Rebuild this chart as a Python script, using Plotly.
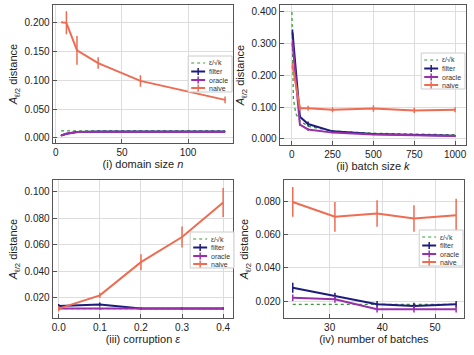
import plotly.graph_objects as go

# ---------------- data ----------------
# (i) domain size n
n_vals = [4, 8, 16, 32, 64, 128]
n_naive = [0.201, 0.200, 0.152, 0.130, 0.099, 0.066]
n_naive_err = [0.0, 0.020, 0.025, 0.010, 0.010, 0.006]
n_filter = [0.004, 0.007, 0.010, 0.011, 0.011, 0.011]
n_oracle = [0.004, 0.007, 0.010, 0.010, 0.010, 0.010]
n_small_err = [0.0005, 0.0005, 0.0005, 0.0005, 0.0005, 0.0005]
n_bound = [0.012, 0.012, 0.012, 0.012, 0.012, 0.012]

# (ii) batch size k
k_vals = [5, 50, 100, 250, 500, 750, 1000]
k_naive = [0.230, 0.097, 0.097, 0.092, 0.096, 0.090, 0.092]
k_naive_err = [0.010, 0.008, 0.008, 0.008, 0.010, 0.008, 0.008]
k_filter = [0.335, 0.070, 0.047, 0.024, 0.016, 0.012, 0.010]
k_filter_err = [0.010, 0.005, 0.008, 0.003, 0.002, 0.002, 0.002]
k_oracle = [0.300, 0.045, 0.030, 0.020, 0.014, 0.011, 0.009]
k_oracle_err = [0.010, 0.004, 0.004, 0.002, 0.002, 0.002, 0.002]
k_bound_x = [1, 5, 10, 25, 50, 100, 250, 500, 750, 1000]
k_bound = [0.400, 0.179, 0.126, 0.080, 0.057, 0.040, 0.025, 0.018, 0.015, 0.013]

# (iii) corruption eps
e_vals = [0.0, 0.1, 0.2, 0.3, 0.4]
e_naive = [0.012, 0.022, 0.047, 0.066, 0.092]
e_naive_err = [0.002, 0.002, 0.006, 0.008, 0.011]
e_filter = [0.014, 0.015, 0.012, 0.012, 0.012]
e_filter_err = [0.0015, 0.0015, 0.001, 0.001, 0.001]
e_oracle = [0.012, 0.012, 0.012, 0.012, 0.012]
e_oracle_err = [0.001, 0.001, 0.001, 0.001, 0.001]
e_bound = [0.012, 0.012, 0.012, 0.012, 0.012]

# (iv) number of batches
b_vals = [23, 31, 39, 46, 54]
b_naive = [0.080, 0.071, 0.073, 0.070, 0.072]
b_naive_err = [0.009, 0.009, 0.008, 0.008, 0.010]
b_filter = [0.028, 0.023, 0.018, 0.017, 0.018]
b_filter_err = [0.003, 0.002, 0.002, 0.002, 0.002]
b_oracle = [0.022, 0.021, 0.015, 0.015, 0.015]
b_oracle_err = [0.002, 0.002, 0.002, 0.002, 0.002]
b_bound = [0.018, 0.018, 0.018, 0.018, 0.018]

series_names = ["ε/√k", "filter", "oracle", "naive"]

# ---------------- style ----------------
C_NAIVE = "#EE6C52"
C_FILTER = "#1C1C7C"
C_ORACLE = "#9A2FAA"
C_BOUND = "#3A9A3A"
COLORS = [C_BOUND, C_FILTER, C_ORACLE, C_NAIVE]
FONT = "Liberation Sans, Arial, sans-serif"

W, H = 474, 355
# plot-area pixel boxes (left, top, right, bottom) and legend box (left, top)
PANELS = {
    1: dict(box=(52, 5, 233, 143), leg=(188, 56)),
    2: dict(box=(280, 5, 467, 145), leg=(422, 53)),
    3: dict(box=(52, 180, 233, 318), leg=(190, 232)),
    4: dict(box=(284, 180, 465, 318), leg=(420, 230)),
}

fig = go.Figure()


def add_panel(idx, x, naive, naive_err, filt, filt_err, orac, orac_err, bx, bound):
    sfx = "" if idx == 1 else str(idx)
    xa, ya = "x" + sfx, "y" + sfx
    fig.add_trace(go.Scatter(x=bx, y=bound, mode="lines", name=series_names[0], showlegend=False,
                             line=dict(color=C_BOUND, width=1.3, dash="dot"), xaxis=xa, yaxis=ya))
    for nm, yv, ev, col in [(series_names[1], filt, filt_err, C_FILTER),
                            (series_names[2], orac, orac_err, C_ORACLE),
                            (series_names[3], naive, naive_err, C_NAIVE)]:
        fig.add_trace(go.Scatter(x=x, y=yv, mode="lines", name=nm, showlegend=False,
                                 line=dict(color=col, width=2),
                                 error_y=dict(type="data", array=ev, color=col, thickness=1.5, width=0),
                                 xaxis=xa, yaxis=ya))


def add_legend(idx):
    sfx = "" if idx == 1 else str(idx)
    xr, yr = "x" + sfx + " domain", "y" + sfx + " domain"
    l, t, r, b = PANELS[idx]["box"]
    lx, ly = PANELS[idx]["leg"]
    pw, ph = r - l, b - t
    fx = lambda px: (px - l) / pw
    fy = lambda py: 1 - (py - t) / ph
    bw, bh = 44, 36
    fig.add_shape(type="rect", xref=xr, yref=yr, x0=fx(lx), x1=fx(lx + bw), y0=fy(ly), y1=fy(ly + bh),
                  line=dict(color="#CCCCCC", width=1), fillcolor="rgba(255,255,255,0.92)", layer="above")
    rows = [7, 15.5, 24, 32]
    for i, (nm, col) in enumerate(zip(series_names, COLORS)):
        yy = ly + rows[i]
        if i == 0:
            fig.add_shape(type="line", xref=xr, yref=yr, x0=fx(lx + 3), x1=fx(lx + 17), y0=fy(yy), y1=fy(yy),
                          line=dict(color=col, width=1.2, dash="dot"), layer="above")
        else:
            fig.add_shape(type="line", xref=xr, yref=yr, x0=fx(lx + 3), x1=fx(lx + 17), y0=fy(yy), y1=fy(yy),
                          line=dict(color=col, width=2), layer="above")
            fig.add_shape(type="line", xref=xr, yref=yr, x0=fx(lx + 10), x1=fx(lx + 10), y0=fy(yy - 3.5),
                          y1=fy(yy + 3.5), line=dict(color=col, width=1.5), layer="above")
        fig.add_annotation(xref=xr, yref=yr, x=fx(lx + 19), y=fy(yy), text=nm, showarrow=False,
                           xanchor="left", yanchor="middle",
                           font=dict(size=7, family=FONT, color="#333333"))


add_panel(1, n_vals, n_naive, n_naive_err, n_filter, n_small_err, n_oracle, n_small_err, n_vals, n_bound)
add_panel(2, k_vals, k_naive, k_naive_err, k_filter, k_filter_err, k_oracle, k_oracle_err, k_bound_x, k_bound)
add_panel(3, e_vals, e_naive, e_naive_err, e_filter, e_filter_err, e_oracle, e_oracle_err, e_vals, e_bound)
add_panel(4, b_vals, b_naive, b_naive_err, b_filter, b_filter_err, b_oracle, b_oracle_err, b_vals, b_bound)
for p in (1, 2, 3, 4):
    add_legend(p)

axis_common = dict(showline=True, linecolor="#555555", linewidth=1.2, mirror=True,
                   ticks="inside", ticklen=4, tickcolor="#555555", ticklabeloverflow="allow",
                   showgrid=True, gridcolor="#DDDDDD", gridwidth=1, zeroline=False,
                   tickfont=dict(size=10, color="#222222", family=FONT))

ytitle = "<i>A</i><sub>ℓ/2</sub> distance"
tfont = dict(size=11, color="#222222", family=FONT)


def dom(idx):
    l, t, r, b = PANELS[idx]["box"]
    return [l / W, r / W], [1 - b / H, 1 - t / H]


layout = dict(width=W, height=H, margin=dict(l=0, r=0, t=0, b=0),
              paper_bgcolor="white", plot_bgcolor="white", showlegend=False,
              font=dict(family=FONT, color="#222222"))

x_specs = {
    1: dict(range=[-2.3, 134], tickvals=[0, 50, 100], title="(i) domain size <i>n</i>"),
    2: dict(range=[-73, 1067], tickvals=[0, 250, 500, 750, 1000], title="(ii) batch size <i>k</i>"),
    3: dict(range=[-0.0145, 0.424], tickvals=[0, 0.1, 0.2, 0.3, 0.4], title="(iii) corruption <i>ε</i>", fmt=".1f"),
    4: dict(range=[21.3, 55.5], tickvals=[30, 40, 50], title="(iv) number of batches"),
}
y_specs = {
    1: dict(range=[-0.009, 0.231], tickvals=[0, 0.05, 0.1, 0.15, 0.2]),
    2: dict(range=[-0.019, 0.422], tickvals=[0, 0.1, 0.2, 0.3, 0.4]),
    3: dict(range=[0.0049, 0.109], tickvals=[0.02, 0.04, 0.06, 0.08, 0.1]),
    4: dict(range=[0.0097, 0.0933], tickvals=[0.02, 0.04, 0.06, 0.08]),
}
for p in (1, 2, 3, 4):
    sfx = "" if p == 1 else str(p)
    dx, dy = dom(p)
    xs, ys = x_specs[p], y_specs[p]
    xa = dict(domain=dx, range=xs["range"], tickvals=xs["tickvals"], anchor="y" + sfx,
              title=dict(text=xs["title"], font=tfont, standoff=2), **axis_common)
    if "fmt" in xs:
        xa["tickformat"] = xs["fmt"]
    ya = dict(domain=dy, range=ys["range"], tickvals=ys["tickvals"], tickformat=".3f", anchor="x" + sfx,
              title=dict(text=ytitle, font=tfont, standoff=4), **axis_common)
    layout["xaxis" + sfx] = xa
    layout["yaxis" + sfx] = ya

fig.update_layout(**layout)
fig.write_html("out.html", config=dict(displayModeBar=False, staticPlot=True),
               post_script="document.body.style.margin='0';document.body.style.overflow='hidden';")
